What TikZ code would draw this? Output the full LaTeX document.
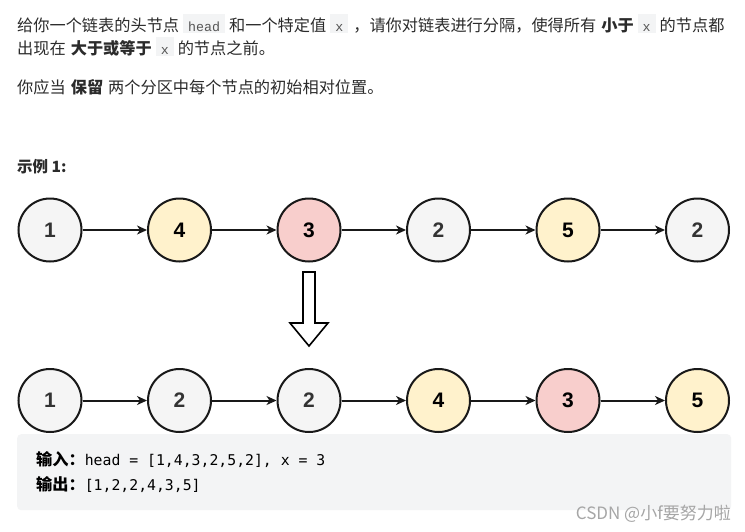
\documentclass[tikz,border=0pt]{standalone}
\usepackage{fontspec}
\setmainfont{Noto Sans CJK SC}
\newfontfamily\codefont{DejaVu Sans Mono}
\newfontfamily\inlinefont{Liberation Mono}
\newfontfamily\numfont{Liberation Sans}
\usetikzlibrary{arrows.meta,positioning}
\definecolor{nodegray}{HTML}{F5F5F5}
\definecolor{nodeyellow}{HTML}{FFF2CC}
\definecolor{nodered}{HTML}{F8CECC}
\definecolor{codebg}{HTML}{F3F4F5}
\definecolor{codegray}{HTML}{555555}
\definecolor{textdark}{HTML}{2B2B2B}
\definecolor{numgray}{HTML}{333333}
\newcommand{\inlinecode}[1]{\hspace{4pt}{\setlength{\fboxsep}{0pt}\colorbox{codebg}{\rule[-2pt]{0pt}{19pt}\hspace{5pt}{\inlinefont\fontsize{13.3}{16}\selectfont\color{codegray}#1}\hspace{5pt}}}\hspace{4pt}}

\begin{document}
\begin{tikzpicture}[x=1pt,y=-1pt]
			\tikzstyle{every node}+=[inner sep=0pt]
			\tikzstyle{para}=[anchor=base west, text=textdark, font=\fontsize{16.2}{19}\selectfont]
			\tikzstyle{listnode}=[circle, draw=black!90, line width=2pt, minimum size=63pt, font=\numfont\bfseries\fontsize{21}{25}\selectfont]
			\tikzstyle{graynode}=[listnode, fill=nodegray, text=numgray]
			\tikzstyle{yellownode}=[listnode, fill=nodeyellow, text=black]
			\tikzstyle{rednode}=[listnode, fill=nodered, text=black]
			\tikzstyle{link}=[line width=2pt, draw=black!90, -{Stealth[length=10pt,width=9pt,inset=3pt]}]
			\useasboundingbox [fill=white] (0,0) rectangle (745,531);
			\node [para] (line1) at (17,31) {给你一个链表的头节点\inlinecode{head}和一个特定值\inlinecode{x}\hspace{1pt}，请你对链表进行分隔，使得所有\hspace{5pt}\textbf{小于}\inlinecode{x}的节点都};
			\node [para] (line2) at (17,54) {出现在\hspace{5pt}\textbf{大于或等于}\inlinecode{x}的节点之前。};
			\node [para] (line3) at (17,93) {你应当\hspace{5pt}\textbf{保留}\hspace{5pt}两个分区中每个节点的初始相对位置。};
			\node [para, font=\bfseries\fontsize{15.5}{18}\selectfont] (example) at (17,172) {示例 1:};
			\node [graynode] (a1) at (50,230) {1};
			\node [yellownode] (a2) at (179.5,230) {4};
			\node [rednode] (a3) at (309,230) {3};
			\node [graynode] (a4) at (438.5,230) {2};
			\node [yellownode] (a5) at (568,230) {5};
			\node [graynode] (a6) at (697.5,230) {2};
			\draw [link] (a1) -- (a2);
			\draw [link] (a2) -- (a3);
			\draw [link] (a3) -- (a4);
			\draw [link] (a4) -- (a5);
			\draw [link] (a5) -- (a6);
			\draw [line width=1.6pt, fill=white, line join=miter] (303,272) -- (315,272) -- (315,323) -- (328,323) -- (309,346) -- (290,323) -- (303,323) -- cycle;
			\node [fill=codebg, rounded corners=4pt, minimum width=714pt, minimum height=76pt, anchor=north west] (codebox) at (17,434) {};
			\node [graynode] (b1) at (50,400.5) {1};
			\node [graynode] (b2) at (179.5,400.5) {2};
			\node [graynode] (b3) at (309,400.5) {2};
			\node [yellownode] (b4) at (438.5,400.5) {4};
			\node [rednode] (b5) at (568,400.5) {3};
			\node [yellownode] (b6) at (697.5,400.5) {5};
			\draw [link] (b1) -- (b2);
			\draw [link] (b2) -- (b3);
			\draw [link] (b3) -- (b4);
			\draw [link] (b4) -- (b5);
			\draw [link] (b5) -- (b6);
			\node [para, text=black] (input) at (36,465) {\textbf{输入：}{\codefont\fontsize{14.8}{18}\selectfont head = [1,4,3,2,5,2], x = 3}};
			\node [para, text=black] (output) at (36,490) {\textbf{输出：}{\codefont\fontsize{14.8}{18}\selectfont [1,2,2,4,3,5]}};
			\node [anchor=base east, text=black!35, font=\fontsize{17}{20}\selectfont] (mark) at (731,519) {CSDN @小f要努力啦};
\end{tikzpicture}
\end{document}
